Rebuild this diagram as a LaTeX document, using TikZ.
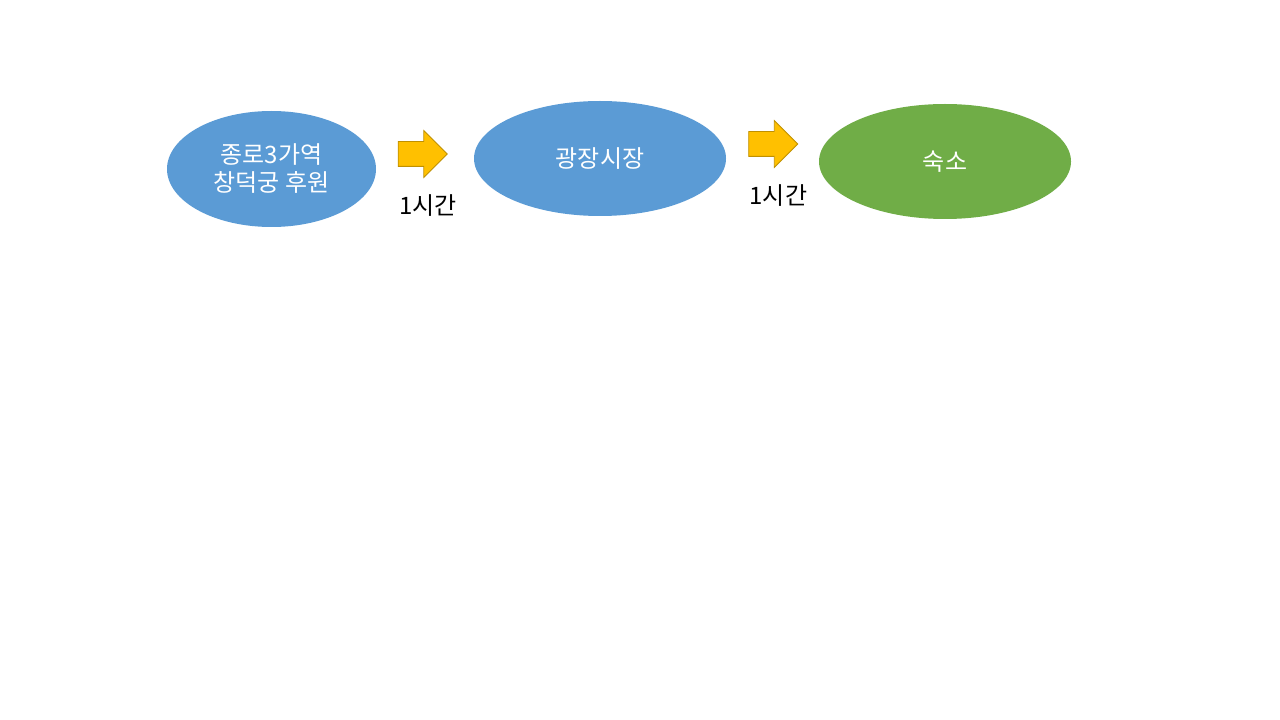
\documentclass[tikz,border=0pt]{standalone}
\usepackage{fontspec}
\setmainfont{Noto Sans CJK KR}
\usetikzlibrary{positioning,shapes.geometric,shapes.arrows}
\definecolor{stopblue}{HTML}{5B9BD5}
\definecolor{stopgreen}{HTML}{70AD47}
\definecolor{hopgold}{HTML}{FFC000}
\definecolor{hopedge}{HTML}{C09000}

\tikzstyle{stop} = [ellipse, fill=stopblue, text=white, align=center, inner sep=0pt, font=\fontsize{18}{21}\selectfont]
\tikzstyle{hop} = [single arrow, fill=hopgold, draw=hopedge, line width=0.6pt, inner sep=0pt, text height=18pt, text depth=0pt, minimum height=36.75pt, single arrow head extend=8.25pt]
\tikzstyle{hoptime} = [font=\fontsize{18}{21}\selectfont]

\begin{document}
\begin{tikzpicture}[x=0.75pt, y=-0.75pt, node distance = 39pt]
\useasboundingbox (0,0) rectangle (1280,720);
\node [stop, minimum width=156.75pt, minimum height=87pt] (Jongno) at (271.5,169) {종로3가역\\창덕궁 후원};
\node [stop, minimum width=189pt, minimum height=86.25pt] (Market) at (600,158.5) {광장시장};
\node [stop, fill=stopgreen, minimum width=189pt, minimum height=86.25pt] (Stay) at (945,161.5) {숙소};
% arrows
\node [hop] (Hop1) at (416.5,154) {};
\node [hop] (Hop2) at (767,144) {};
\node [hoptime] (Time1) [below of=Hop1, xshift=8.5pt] {1시간};
\node [hoptime] (Time2) [below of=Hop2, xshift=8.5pt] {1시간};
\end{tikzpicture}
\end{document}
